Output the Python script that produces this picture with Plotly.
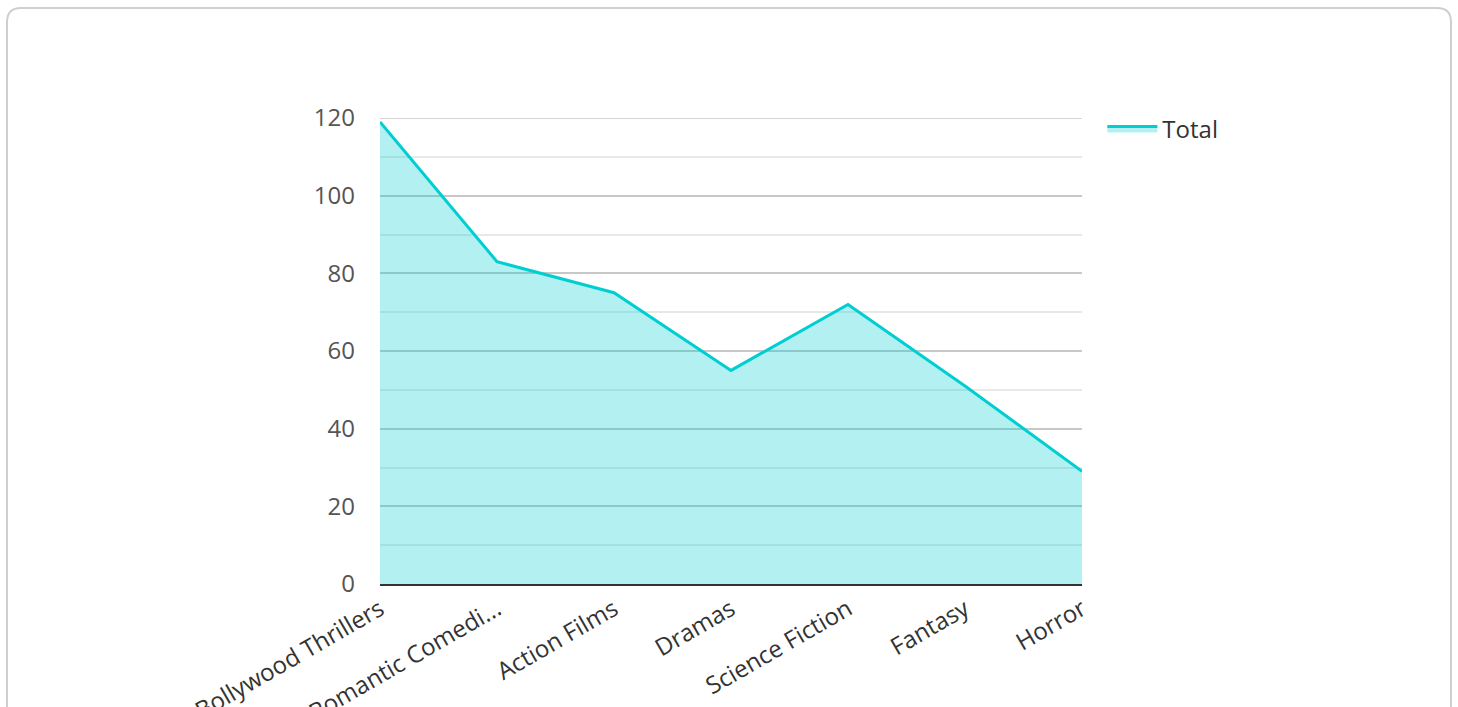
import plotly.graph_objects as go

categories = ["Bollywood Thrillers", "Romantic Comedi...", "Action Films", "Dramas",
              "Science Fiction", "Fantasy", "Horror"]
totals = [119, 83, 75, 55, 72, 51, 29]
series_name = "Total"
y_max = 120

W, H = 1458, 707
L, R, T, B = 380, 1082, 118, 584

def px(x):
    return (x - L) / (R - L)

def py(y):
    return (B - y) / (B - T)

fig = go.Figure()
fig.add_trace(go.Scatter(
    x=categories, y=totals, name=series_name, mode="lines",
    line=dict(color="#00CED1", width=3),
    fill="tozeroy", fillcolor="rgba(0,206,209,0.3)",
    showlegend=True,
))

# rounded container border (pixel coords mapped to paper)
x0, x1, y0, y1, r = 7, 1451, 8, 730, 14
path = (f"M {px(x0)},{py(y1)} L {px(x0)},{py(y0 + r)} "
        f"Q {px(x0)},{py(y0)} {px(x0 + r)},{py(y0)} "
        f"L {px(x1 - r)},{py(y0)} Q {px(x1)},{py(y0)} {px(x1)},{py(y0 + r)} "
        f"L {px(x1)},{py(y1)}")

fig.update_layout(
    width=W, height=H,
    margin=dict(l=L, r=W - R, t=T, b=H - B, autoexpand=False),
    paper_bgcolor="white", plot_bgcolor="white",
    font=dict(family="Open Sans", size=24, color="#444"),
    showlegend=True,
    legend=dict(x=1.029, y=1.025, xanchor="left", yanchor="top", itemwidth=50,
                font=dict(size=24, color="#333"), bgcolor="rgba(0,0,0,0)"),
    xaxis=dict(type="category", range=[0, 6], tickangle=-30,
               showgrid=False, showline=True, linecolor="#333", linewidth=2,
               ticks="", tickfont=dict(size=24, color="#333")),
    yaxis=dict(range=[0, y_max], dtick=20, showgrid=True, gridcolor="#c8c8c8",
               gridwidth=1.5, zeroline=False, showline=False, ticks="",
               ticklabelstandoff=24, tickfont=dict(size=24, color="#555"),
               minor=dict(dtick=10, showgrid=True, gridcolor="#e8e8e8", gridwidth=1.5)),
    shapes=[
        dict(type="path", xref="paper", yref="paper", path=path,
             line=dict(color="#cfcfcf", width=2), layer="below"),
        dict(type="line", xref="paper", yref="y", x0=0, x1=1, y0=y_max, y1=y_max,
             line=dict(color="#c8c8c8", width=1.5), layer="below"),
    ],
)

fig.write_html("out.html", config={"displayModeBar": False},
               post_script="document.body.style.margin='0px';document.body.style.overflow='hidden';")
